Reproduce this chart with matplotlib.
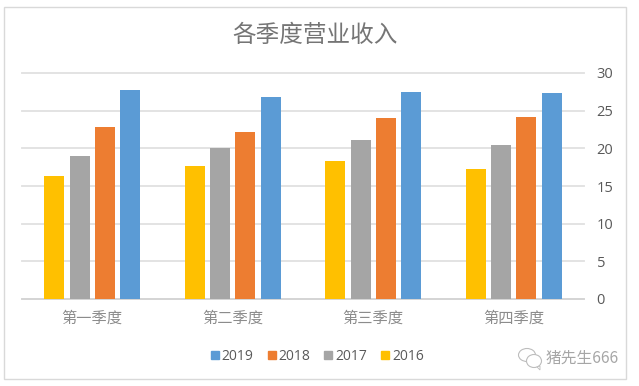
#%%imports
import matplotlib.pyplot as plt
from matplotlib.lines import Line2D
from matplotlib.patches import Ellipse, Polygon, Rectangle
import numpy as np

plt.rcParams["font.family"] = ["Noto Sans CJK SC", "DejaVu Sans"]

#%%data
quarters = ["第一季度", "第二季度", "第三季度", "第四季度"]
years = ["2016", "2017", "2018", "2019"]
values_2016 = [16.3, 17.6, 18.3, 17.2]
values_2017 = [19.0, 20.0, 21.1, 20.5]
values_2018 = [22.8, 22.2, 24.0, 24.1]
values_2019 = [27.7, 26.8, 27.5, 27.4]
y_ticks = [0, 5, 10, 15, 20, 25, 30]
colors = ["#FFC000", "#A5A5A5", "#ED7D31", "#5B9BD5"]

W, H = 639, 386

#%%main
def main():
    fig = plt.figure(figsize=(W/100, H/100), dpi=100, facecolor="white")

    #chart frame, in pixels of the picture
    fig.add_artist(Rectangle((3.5/W, 1-378.5/H), 622/W, 372/H, transform=fig.transFigure,
                             facecolor="white", edgecolor="#D9D9D9", linewidth=1.0, zorder=-1))

    ax = fig.add_axes([22/W, 1-299/H, 562/W, 226/H])
    x = np.arange(len(quarters))
    series = [values_2016, values_2017, values_2018, values_2019]
    width = 0.143
    step = 0.18
    for i, vals in enumerate(series):
        ax.bar(x + (i-1.5)*step, vals, width=width, color=colors[i], zorder=3)

    ax.set_xlim(-0.5, 3.5)
    ax.set_ylim(0, 30)
    ax.set_xticks(x, quarters)
    ax.set_yticks(y_ticks)
    ax.yaxis.tick_right()
    ax.grid(axis="y", color="#E0E0E0", linewidth=1.3, zorder=0, clip_on=False)
    ax.set_axisbelow(True)
    ax.patch.set_alpha(0)
    for side in ["top", "left", "right"]:
        ax.spines[side].set_visible(False)
    ax.spines["bottom"].set_color("#D4D4D4")
    ax.spines["bottom"].set_linewidth(1.3)
    ax.tick_params(axis="both", length=0)
    ax.tick_params(axis="x", pad=8, labelsize=11, labelcolor="#8C8C8C")
    ax.tick_params(axis="y", pad=9, labelsize=10.5, labelcolor="#595959")
    for lab in ax.get_yticklabels():
        lab.set_fontfamily(["Open Sans", "DejaVu Sans"])

    fig.text(315/W, 1-36/H, "各季度营业收入", fontsize=17, color="#757575", ha="center", va="center")

    #legend runs 2019 -> 2016
    handles = [Line2D([], [], linestyle="none", marker="s", markersize=6.2, color=colors[i], label=years[i])
               for i in [3, 2, 1, 0]]
    leg = fig.legend(handles=handles, ncol=4, frameon=False, loc="center", bbox_to_anchor=(317/W, 1-356.5/H),
                     handlelength=0.7, handletextpad=0.17, columnspacing=0.93,
                     prop={"family": ["Open Sans", "DejaVu Sans"], "size": 10})
    for t in leg.get_texts():
        t.set_color("#595959")

    #watermark
    ic = "#BDBDBD"
    fig.add_artist(Ellipse((527/W, 1-355/H), 17/W, 13/H, transform=fig.transFigure, fill=False, edgecolor=ic, linewidth=0.8))
    fig.add_artist(Ellipse((534/W, 1-361/H), 15/W, 13/H, transform=fig.transFigure, facecolor="white", edgecolor=ic, linewidth=0.8))
    fig.add_artist(Polygon([(537/W, 1-367/H), (540/W, 1-370/H), (540/W, 1-366/H)], transform=fig.transFigure,
                           facecolor="white", edgecolor=ic, linewidth=0.6))
    fig.text(546/W, 1-358/H, "猪先生666", fontsize=11.3, color="#A6A6A6", ha="left", va="center")

    fig.savefig("out.png", dpi=100)


if __name__ == "__main__":
    main()
